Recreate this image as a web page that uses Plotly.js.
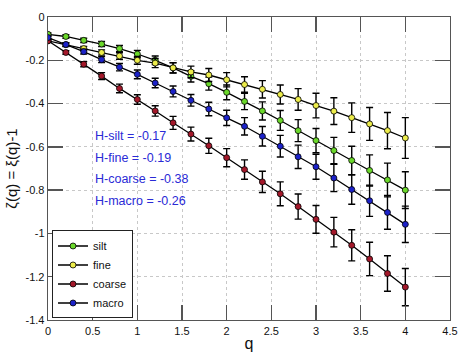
<!DOCTYPE html>
<html>
<head>
<meta charset="utf-8">
<script src="https://cdn.plot.ly/plotly-3.0.1.min.js"></script>
<style>html,body{margin:0;padding:0;background:#fff}#chart{width:474px;height:357px}</style>
</head>
<body>
<div id="chart"></div>
<script>
const q = [0,0.2,0.4,0.6,0.8,1.0,1.2,1.4,1.6,1.8,2.0,2.2,2.4,2.6,2.8,3.0,3.2,3.4,3.6,3.8,4.0];

const silt   = [-0.08,-0.09,-0.108,-0.125,-0.146,-0.171,-0.2,-0.235,-0.274,-0.308,-0.348,-0.39,-0.434,-0.478,-0.525,-0.571,-0.617,-0.663,-0.709,-0.753,-0.80];
const fine   = [-0.11,-0.128,-0.146,-0.164,-0.18,-0.2,-0.213,-0.235,-0.254,-0.268,-0.29,-0.312,-0.334,-0.358,-0.381,-0.409,-0.435,-0.465,-0.494,-0.525,-0.559];
const coarse = [-0.11,-0.164,-0.218,-0.273,-0.33,-0.381,-0.434,-0.489,-0.541,-0.595,-0.65,-0.705,-0.762,-0.817,-0.876,-0.935,-0.994,-1.055,-1.118,-1.185,-1.248];
const macro  = [-0.095,-0.127,-0.16,-0.197,-0.232,-0.265,-0.305,-0.344,-0.385,-0.425,-0.466,-0.505,-0.551,-0.597,-0.646,-0.692,-0.744,-0.797,-0.849,-0.903,-0.958];

const siltErr   = [0.006,0.008,0.010,0.012,0.014,0.017,0.020,0.023,0.026,0.030,0.034,0.038,0.042,0.046,0.051,0.056,0.061,0.066,0.072,0.078,0.085];
const fineErr   = [0.006,0.008,0.010,0.012,0.015,0.018,0.021,0.024,0.027,0.030,0.033,0.036,0.040,0.044,0.050,0.057,0.062,0.068,0.076,0.084,0.094];
const coarseErr = [0.006,0.008,0.012,0.016,0.020,0.022,0.024,0.030,0.032,0.035,0.042,0.045,0.049,0.055,0.058,0.064,0.068,0.072,0.077,0.082,0.086];
const macroErr  = [0.006,0.008,0.011,0.014,0.017,0.020,0.022,0.025,0.027,0.031,0.035,0.040,0.045,0.050,0.054,0.058,0.063,0.068,0.072,0.078,0.084];

const seriesNames = ['silt','fine','coarse','macro'];
const seriesData = [silt, fine, coarse, macro];
const seriesErr = [siltErr, fineErr, coarseErr, macroErr];
const seriesColors = ['#6ad82a','#ecec4a','#a3182a','#1c22c8'];

const hText = ['H-silt = -0.17','H-fine = -0.19','H-coarse = -0.38','H-macro = -0.26'];
const hY = [-0.55,-0.65,-0.75,-0.85];

const xTickVals = [0,0.5,1,1.5,2,2.5,3,3.5,4,4.5];
const xTickText = ['0','0.5','1','1.5','2','2.5','3','3.5','4','4.5'];
const yTickVals = [0,-0.2,-0.4,-0.6,-0.8,-1,-1.2,-1.4];
const yTickText = ['0','-0.2','-0.4','-0.6','-0.8','-1','-1.2','-1.4'];

const traces = seriesNames.map((n,i)=>({
  x: q, y: seriesData[i], name: n, type: 'scatter', mode: 'lines+markers',
  line: {color: '#000', width: 1.3},
  marker: {color: seriesColors[i], size: 6, line: {color: '#000', width: 0.8}},
  error_y: {type: 'data', array: seriesErr[i], visible: true, color: '#000', thickness: 1.4, width: 3.5}
}));

const fontFam = '"Liberation Sans", Arial, sans-serif';
const axisCommon = {
  showline: true, mirror: 'ticks', linecolor: '#555', linewidth: 1.3,
  ticks: 'inside', ticklen: 15, tickwidth: 1.3, tickcolor: '#555',
  showgrid: true, gridcolor: '#c8c8c8', griddash: 'dot', gridwidth: 1,
  zeroline: false, tickfont: {family: fontFam, size: 11, color: '#111'},
  automargin: false
};

const layout = {
  width: 474, height: 357,
  margin: {l: 48, r: 24, t: 17, b: 37},
  paper_bgcolor: '#fff', plot_bgcolor: '#fff',
  font: {family: fontFam, color: '#111'},
  showlegend: true,
  legend: {x: 0.01, y: 0.005, xanchor: 'left', yanchor: 'bottom',
    bgcolor: '#fff', bordercolor: '#222', borderwidth: 1,
    font: {family: fontFam, size: 11, color: '#111'}, tracegroupgap: 0},
  xaxis: Object.assign({}, axisCommon, {
    range: [0, 4.5], tickmode: 'array', tickvals: xTickVals, ticktext: xTickText,
    title: {text: 'q', font: {family: fontFam, size: 16, color: '#111'}, standoff: 2}
  }),
  yaxis: Object.assign({}, axisCommon, {
    range: [-1.4, 0], tickmode: 'array', tickvals: yTickVals, ticktext: yTickText,
    title: {text: 'ζ(q) = ξ(q)-1', font: {family: fontFam, size: 15, color: '#111'}, standoff: 4}
  }),
  annotations: hText.map((t,i)=>({
    x: 0.5, y: hY[i], xref: 'x', yref: 'y', text: t, showarrow: false,
    xanchor: 'left', yanchor: 'middle',
    font: {family: fontFam, size: 12.5, color: '#2a2ad6'}
  }))
};

Plotly.newPlot('chart', traces, layout, {displayModeBar: false, staticPlot: true});
</script>
</body>
</html>
